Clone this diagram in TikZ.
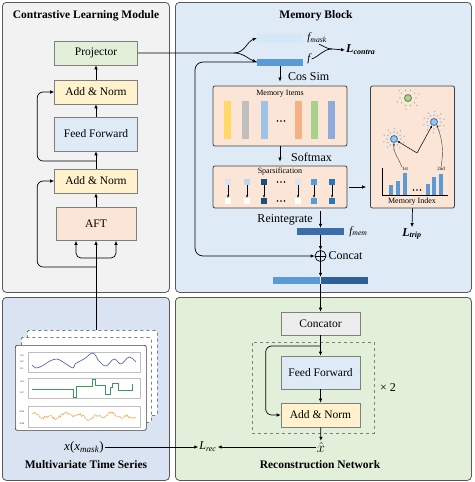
\documentclass[tikz,border=0pt]{standalone}
\usepackage{fontspec}
\setmainfont{Liberation Serif}
\usetikzlibrary{arrows.meta, positioning, calc}

\definecolor{framegray}{HTML}{595959}
\definecolor{boxgray}{HTML}{7F7F7F}
\definecolor{darkframe}{HTML}{404040}
\definecolor{clmfill}{HTML}{F2F2F2}
\definecolor{memfill}{HTML}{DEEAF6}
\definecolor{tsfill}{HTML}{DAE3F1}
\definecolor{recfill}{HTML}{E2EFD9}
\definecolor{projgreen}{HTML}{E2F0D9}
\definecolor{normyellow}{HTML}{FFF2CC}
\definecolor{ffblue}{HTML}{DEEBF7}
\definecolor{aftpeach}{HTML}{FBE5D6}
\definecolor{concgray}{HTML}{EDEDED}
\definecolor{fmaskblue}{HTML}{D4E8F7}
\definecolor{fblue}{HTML}{5B9BD5}
\definecolor{fmemblue}{HTML}{3B6DA8}
\definecolor{catlight}{HTML}{5B9BD5}
\definecolor{catdark}{HTML}{2F5D95}
\definecolor{itemyellow}{HTML}{FFD966}
\definecolor{itemgray}{HTML}{BFBFBF}
\definecolor{itemblue}{HTML}{9DC3E6}
\definecolor{itemorange}{HTML}{F4B183}
\definecolor{itemgreen}{HTML}{A9D18E}
\definecolor{itemnavy}{HTML}{8FAADC}
\definecolor{sqpale}{HTML}{DAE3F3}
\definecolor{sqlight}{HTML}{BDD7EE}
\definecolor{sqdark}{HTML}{1F4E79}
\definecolor{sqmid}{HTML}{5B9BD5}
\definecolor{sqdeep}{HTML}{2E75B6}
\definecolor{dotgreen}{HTML}{A4C39A}
\definecolor{dotblue}{HTML}{A7B9D3}
\definecolor{seriesblue}{HTML}{4657B0}
\definecolor{seriesgreen}{HTML}{3C9A5F}
\definecolor{seriesorange}{HTML}{F7A14A}

\begin{document}
\begin{tikzpicture}[
  x=1pt, y=-1pt,
  panel/.style={draw=framegray, line width=0.8pt, rounded corners=4pt, anchor=north west, inner sep=0pt},
  paneltitle/.style={font=\fontsize{11.5}{13}\selectfont\bfseries},
  box/.style={rectangle, draw=boxgray, line width=0.6pt, align=center, minimum width=83pt, minimum height=24pt, inner sep=1pt, font=\fontsize{11.5}{13}\selectfont},
  lbl/.style={font=\fontsize{12}{14}\selectfont, inner sep=1pt},
  smalllbl/.style={font=\fontsize{8}{9}\selectfont, inner sep=1pt},
  featlbl/.style={font=\fontsize{11}{12}\selectfont\itshape, inner sep=1pt},
  lossl/.style={font=\fontsize{12}{14}\selectfont\bfseries\itshape, inner sep=1pt},
  membox/.style={rectangle, draw=darkframe, line width=0.8pt, rounded corners=2pt, fill=aftpeach, minimum width=134pt, inner sep=0pt},
  bar/.style={rectangle, inner sep=0pt, minimum height=7pt},
  item/.style={rectangle, inner sep=0pt, minimum width=7pt, minimum height=38pt},
  sq/.style={rectangle, inner sep=0pt, minimum size=6pt},
  sheet/.style={draw=darkframe, line width=0.7pt, rounded corners=2pt, fill=white, anchor=north west, inner sep=0pt, minimum width=130pt, minimum height=85pt},
  plotbox/.style={draw=itemgray, line width=0.6pt, inner sep=0pt, minimum width=112pt, minimum height=20pt},
  ticklbl/.style={font=\fontsize{2.5}{3}\selectfont, inner sep=0pt},
  centre/.style={circle, line width=0.8pt, minimum size=7pt, inner sep=0pt},
  arrow/.style={-{Latex[length=4pt, width=3.5pt]}, line width=0.7pt},
  smallarrow/.style={-{Latex[length=2.5pt, width=2.2pt]}, line width=0.4pt},
  link/.style={line width=0.7pt}
]
\useasboundingbox (0,0) rectangle (474,482);

% panels
\node[panel, fill=clmfill, minimum width=167pt, minimum height=290pt] (clm) at (2,2) {};
\node[panel, fill=memfill, minimum width=296pt, minimum height=290pt] (mem) at (175,2) {};
\node[panel, fill=tsfill, minimum width=167pt, minimum height=183pt] (mts) at (2,297) {};
\node[panel, fill=recfill, minimum width=296pt, minimum height=183pt] (rec) at (175,297) {};

\node[paneltitle] (clmtitle) at (86,16) {Contrastive Learning Module};
\node[paneltitle] (memtitle) at (316,16) {Memory Block};
\node[paneltitle] (mtstitle) at (86,465) {Multivariate Time Series};
\node[paneltitle] (rectitle) at (320,465) {Reconstruction Network};

% contrastive learning module
\node[box, fill=projgreen] (proj) at (96,53) {Projector};
\node[box, fill=normyellow] (an2) at (96,92) {Add \& Norm};
\node[box, fill=ffblue, minimum height=34pt] (ff1) at (96,134) {Feed Forward};
\node[box, fill=normyellow] (an1) at (96,181) {Add \& Norm};
\node[box, fill=aftpeach, minimum width=80pt, minimum height=33pt] (aft) at (96,224) {AFT};

\draw[arrow] (aft) -- (an1);
\draw[arrow] (an1) -- (ff1);
\draw[arrow] (ff1) -- (an2);
\draw[arrow] (an2) -- (proj);

\coordinate (fork) at (96,258);
\coordinate (skip1) at (96,267);
\coordinate (skip2) at (96,161);
\draw[arrow, rounded corners=5pt] (fork) -| ([xshift=-20pt]aft.south);
\draw[arrow, rounded corners=5pt] (fork) -| ([xshift=20pt]aft.south);
\draw[arrow, rounded corners=6pt] (skip1) -| ([xshift=-17pt]an1.west) -- (an1.west);
\draw[arrow, rounded corners=6pt] (skip2) -| ([xshift=-17pt]an2.west) -- (an2.west);

% memory block
\node[bar, fill=fmaskblue, minimum width=46pt, minimum height=9pt] (fmask) at (280,38) {};
\node[bar, fill=fblue, minimum width=46pt] (fbar) at (280,62) {};
\node[featlbl, right=3pt of fmask] (fmasklbl) {f\textsubscript{mask}};
\node[featlbl, right=3pt of fbar, yshift=3pt] (flbl) {f};
\coordinate (psplit) at (234,53);
\coordinate (cmerge) at (332,49);
\draw[arrow] (proj.east) -- (psplit) to[out=0, in=200] (fmask.west);
\draw[arrow] (psplit) to[out=0, in=160] (fbar.west);
\node[lossl, anchor=west] (lcontra) at (345,50) {L\textsubscript{contra}};
\draw[link] ([xshift=2pt]fmasklbl.south) to[out=-20, in=180] (cmerge);
\draw[link] (flbl.east) to[out=20, in=180] (cmerge);
\draw[arrow] (cmerge) -- (lcontra.west);

\node[membox, minimum height=60pt] (memitems) at (280,116) {};
\draw[arrow] (fbar.south) -- ([yshift=4pt]memitems.north);
\node[lbl, anchor=west] (cossim) at (287,77) {Cos Sim};
\node[smalllbl] (itemstitle) at (280,94) {Memory Items};
\foreach \x/\c in {227/itemyellow, 245/itemgray, 264/itemblue, 298/itemorange, 314/itemgreen, 331/itemnavy}
  \node[item, fill=\c] (item\x) at (\x,120) {};
\foreach \d in {-3.5,0,3.5}
  \fill (281+\d,121) circle (0.9pt);

\node[membox, minimum height=42pt] (sparse) at (280,187) {};
\draw[arrow] (memitems.south) -- ([yshift=4pt]sparse.north);
\node[lbl, anchor=west] (softmax) at (290,157) {Softmax};
\node[smalllbl] (sparsetitle) at (280,172) {Sparsification};
\foreach \x/\ct/\cb in {228/sqpale/white, 247/sqlight/white, 264/sqdark/sqdark, 298/sqpale/white, 314/sqmid/sqmid, 332/sqdeep/sqdeep} {
  \node[sq, fill=\ct] (top\x) at (\x,182) {};
  \node[sq, fill=\cb] (bot\x) at (\x,201) {};
  \draw[smallarrow] (top\x) -- (bot\x);
}
\foreach \d in {-3.5,0,3.5} {
  \fill (281+\d,182) circle (0.8pt);
  \fill (281+\d,201) circle (0.8pt);
}

\node[membox, minimum width=84pt, minimum height=122pt] (memidx) at (412.5,147) {};
\draw[arrow] ([xshift=2pt]sparse.east) -- ($(memidx.west |- sparse.east)+(-4,0)$);

\node[bar, fill=fmemblue, minimum width=47pt] (fmem) at (320.5,231.5) {};
\draw[arrow] ($(fmem.north |- sparse.south)+(0,3)$) -- (fmem.north);
\node[lbl, anchor=east] (reint) at (314,220) {Reintegrate};
\node[featlbl, right=4pt of fmem] (fmemlbl) {f\textsubscript{mem}};
\node[circle, draw, line width=0.7pt, minimum size=11pt, inner sep=0pt] (oplus) at (320.5,256) {};
\draw[line width=0.7pt] (oplus.north) -- (oplus.south) (oplus.west) -- (oplus.east);
\node[lbl, right=1pt of oplus] (concat) {Concat};
\draw[arrow] (fmem.south) -- (oplus.north);
\coordinate (loopc) at (195,256);
\draw[arrow, rounded corners=8pt] (fbar.west) -| (loopc) -- (oplus.west);
\node[bar, fill=catlight, minimum width=47pt, anchor=east] (catl) at (320.5,280.5) {};
\node[bar, fill=catdark, minimum width=47pt, anchor=west] (catr) at (320.5,280.5) {};
\draw[arrow] (oplus.south) -- (catl.north east);

% memory index
\coordinate (gclus) at (408,98);
\coordinate (bclus1) at (394,139);
\coordinate (bclus2) at (434,122);
\foreach \a in {0,36,...,324} {
  \fill[dotgreen] ($(gclus)+(\a:8pt)$) circle (0.9pt);
}
\foreach \a in {20,80,...,320} {
  \fill[dotgreen] ($(gclus)+(\a:11.5pt)$) circle (0.8pt);
}
\foreach \a in {0,30,...,330} {
  \fill[dotblue] ($(bclus1)+(\a:7pt)$) circle (0.9pt);
  \fill[dotblue] ($(bclus2)+(\a:7pt)$) circle (0.9pt);
}
\foreach \a in {15,51,...,340} {
  \fill[dotblue] ($(bclus1)+(\a:10.5pt)$) circle (0.8pt);
  \fill[dotblue] ($(bclus2)+(\a:10.5pt)$) circle (0.8pt);
}
\node[centre, draw=itemgreen!60!black, fill=itemgreen] (gcent) at (gclus) {};
\node[centre, draw=sqdeep, fill=itemblue] (bcent1) at (bclus1) {};
\node[centre, draw=sqdeep, fill=itemblue] (bcent2) at (bclus2) {};
\coordinate (query) at (417,153);
\draw[smallarrow, line width=0.5pt] (query) -- (bcent1);
\draw[smallarrow, line width=0.5pt] (query) -- (bcent2);

\draw[line width=0.6pt] (382,168) -- (382,195) -- (448,195);
\foreach \x/\h in {391/10, 398/14, 405/22, 428/11, 434/18, 441/21}
  \fill[fblue] (\x-2,195) rectangle (\x+2,195-\h);
\foreach \d in {-3.5,0,3.5}
  \fill (417+\d,190) circle (0.8pt);
\node[font=\fontsize{5}{6}\selectfont, inner sep=0pt] (first) at (405,169) {1st};
\node[font=\fontsize{5}{6}\selectfont, inner sep=0pt] (second) at (441,169) {2nd};
\draw[smallarrow, darkframe] (first.north west) to[out=110, in=-95] (bcent1.south);
\draw[smallarrow, darkframe] (second.north) to[out=80, in=-70] (bcent2.south east);
\node[smalllbl] (idxlbl) at (412,202) {Memory Index};
\node[lossl] (ltrip) at (412,234) {L\textsubscript{trip}};
\draw[arrow] (memidx.south) -- (ltrip.north);

% multivariate time series
\node[sheet, dashed] (sheet3) at (27,330) {};
\node[sheet, dashed] (sheet2) at (21,337) {};
\node[sheet, minimum width=131pt] (sheet1) at (15,345) {};
\node[plotbox] (plot1) at (84,362) {};
\node[plotbox] (plot2) at (84,388) {};
\node[plotbox, minimum height=21pt] (plot3) at (84,416.5) {};
\foreach \y/\t in {356/0.3, 362/0.2, 369/0.1, 382/0.4, 393/0.2, 412/0.55, 424/0.50}
  \node[ticklbl] (tick\y) at (22,\y) {\t};
\draw[seriesblue, line width=0.6pt] plot[smooth, tension=0.6] coordinates {(32,365) (36,368) (42,366) (50,361) (57,359) (63,362) (73,368) (75,364) (84,359) (93,353) (99,361) (106,366) (114,359) (121,364) (129,357) (136,362)};
\draw[seriesgreen, line width=0.6pt] (32,389) -- (73,389) -- (73,397) -- (76,397) -- (76,386) -- (92,386) -- (92,379) -- (95,379) -- (95,385) -- (105,385) -- (105,394) -- (110,394) -- (110,387) -- (112,387) -- (112,383) -- (118,383) -- (118,390) -- (132,390) -- (132,384);
\pgfmathsetseed{3}
\draw[seriesorange, line width=0.5pt] plot[domain=32:136, samples=100] (\x, {416 + 1.8*sin(\x*9) - 1.5*sin(\x*23+40) + 1.4*rand});
\draw[arrow] (aft.south |- sheet3.north) -- (aft.south);
\node[lbl, font=\fontsize{13}{14}\selectfont] (xin) at (84,447) {\textit{x}(\textit{x}\textsubscript{\textit{mask}})};

% reconstruction network
\node[box, fill=concgray, minimum width=79pt, minimum height=23pt] (concator) at (320.5,323.5) {Concator};
\draw[arrow] (catl.south east) -- (concator.north);
\node[draw=boxgray, dashed, line width=0.6pt, minimum width=122pt, minimum height=91pt, inner sep=0pt] (repeatbox) at (313,387.5) {};
\node[box, fill=ffblue, minimum width=79pt, minimum height=33pt] (ff2) at (320.5,372.5) {Feed Forward};
\node[box, fill=normyellow, minimum width=79pt] (an3) at (320.5,415) {Add \& Norm};
\draw[arrow] (concator) -- (ff2);
\coordinate (skip3) at (320.5,346);
\draw[arrow, rounded corners=6pt] (skip3) -| ([xshift=-15pt]an3.west) -- (an3.west);
\draw[arrow] (ff2) -- (an3);
\node[lbl, font=\fontsize{14}{15}\selectfont] (xhat) at (321,447) {$\hat{x}$};
\draw[arrow] (an3) -- (xhat);
\node[lbl] (times) at (388,388) {× 2};
\node[lbl, font=\fontsize{12}{14}\selectfont\itshape] (lrec) at (208,447) {L\textsubscript{rec}};
\draw[arrow] (xin) -- (lrec);
\draw[arrow] (xhat) -- (lrec);
\end{tikzpicture}
\end{document}
